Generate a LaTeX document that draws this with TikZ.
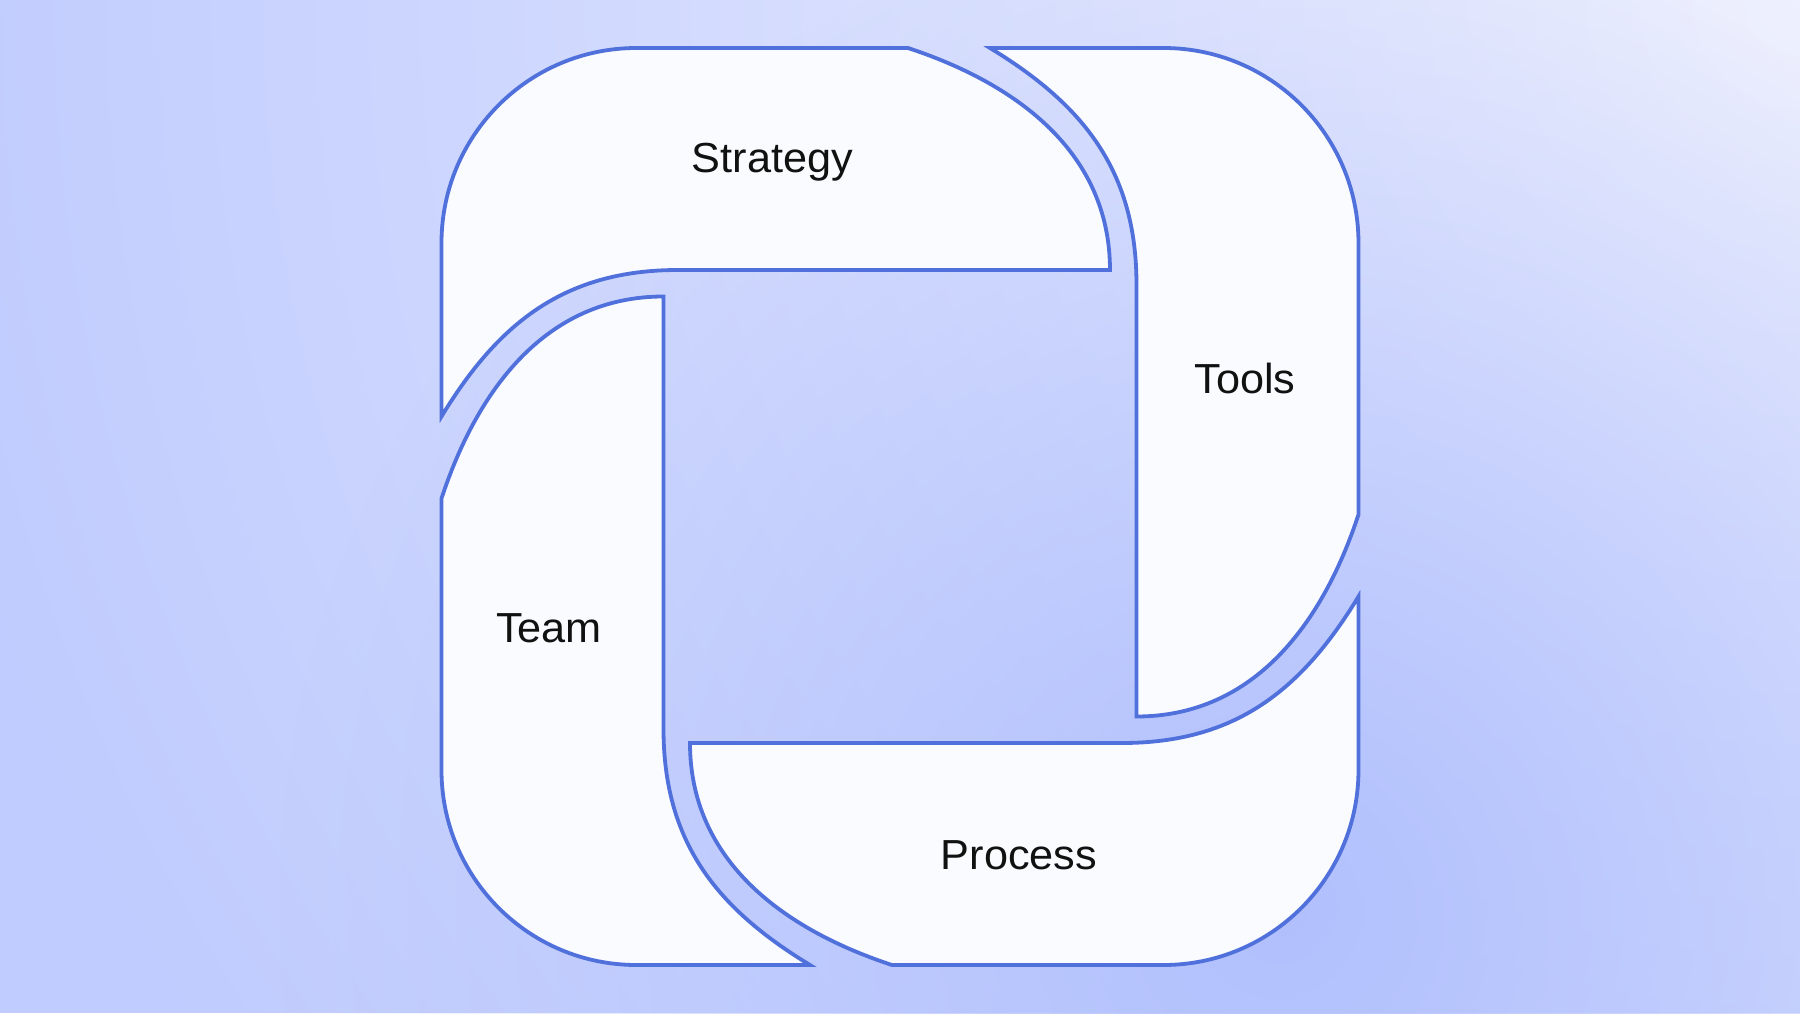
\documentclass[tikz,border=0pt]{standalone}
\usepackage{fontspec}
\setmainfont{Liberation Sans}[FakeStretch=1.03]
\usetikzlibrary{fadings}
\definecolor{bgbase}{RGB}{192,204,255}
\definecolor{bglight}{RGB}{238,240,254}
\definecolor{bgdark}{RGB}{177,192,253}
\definecolor{edge}{RGB}{80,112,220}
\definecolor{piecefill}{RGB}{250,251,255}
\definecolor{ink}{RGB}{17,17,17}
\tikzfading[name=radfade, inner color=transparent!0, outer color=transparent!100]
\begin{document}
\begin{tikzpicture}[x=0.5pt,y=0.5pt,
  piece/.style={draw=edge, line width=1.9pt, fill=piecefill, line join=miter, miter limit=10},
  lbl/.style={font=\fontsize{21}{25}\selectfont, text=ink, inner sep=0pt, anchor=base}]
\useasboundingbox (-900,-506.5) rectangle (900,506.5);
\fill[bgbase] (-900,-506.5) rectangle (900,506.5);
\begin{scope}
\clip (-900,-506.5) rectangle (900,506.5);
\fill[bglight, path fading=radfade] (900,506.5) circle (1900);
\fill[bgdark, path fading=radfade] (380,-400) circle (1000);
\end{scope}
\foreach \a in {0,-90,180,90} {
  \draw[piece, rotate=\a] (-458.5,90) -- (-458.5,263.5)
    arc[start angle=180, end angle=90, radius=195] -- (8,458.5)
    .. controls (116,423) and (210,354.5) .. (210,236.5)
    -- (-222,236.5)
    .. controls (-336,236.5) and (-402,183) .. (-458.5,90) -- cycle;
}
\node[lbl] (strategy) at (-127.5,333.8) {Strategy};
\node[lbl] (tools) at (345,113.5) {Tools};
\node[lbl] (team) at (-351,-136.2) {Team};
\node[lbl] (process) at (119,-362.5) {Process};
\end{tikzpicture}
\end{document}
